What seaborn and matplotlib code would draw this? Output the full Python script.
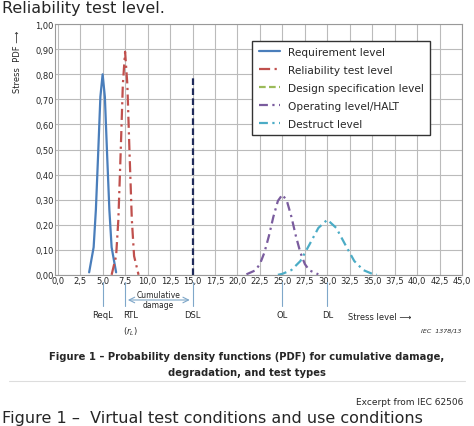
import matplotlib
matplotlib.use("Agg")
import matplotlib.pyplot as plt
import seaborn as sns
import pandas as pd
from matplotlib.lines import Line2D

req_x = [3.5, 4.0, 4.25, 4.5, 4.75, 5.0, 5.25, 5.5, 5.75, 6.0, 6.5]
req_y = [0.01, 0.11, 0.26, 0.48, 0.71, 0.80, 0.71, 0.48, 0.26, 0.11, 0.01]
rtl_x = [6.0, 6.5, 6.75, 7.0, 7.25, 7.5, 7.75, 8.0, 8.25, 8.5, 9.0]
rtl_y = [0.0, 0.075, 0.22, 0.48, 0.76, 0.89, 0.76, 0.48, 0.22, 0.075, 0.0]
dsl_x = [15.0, 15.0]
dsl_y = [0.0, 0.79]
ol_x = [21.0, 22.0, 22.5, 23.0, 23.5, 24.0, 24.5, 25.0, 25.5, 26.0, 26.5, 27.0, 27.5, 28.0, 29.0]
ol_y = [0.002, 0.018, 0.043, 0.089, 0.155, 0.232, 0.295, 0.32, 0.295, 0.232, 0.155, 0.089, 0.043, 0.018, 0.002]
dl_x = [24.5, 25.0, 26.0, 27.0, 28.0, 29.0, 30.0, 31.0, 32.0, 33.0, 34.0, 35.0, 35.5]
dl_y = [0.0, 0.004, 0.019, 0.055, 0.12, 0.187, 0.22, 0.187, 0.12, 0.055, 0.019, 0.004, 0.0]
names = ["Requirement level", "Reliability test level", "Design specification level",
         "Operating level/HALT", "Destruct level"]
x_ticks = [i * 2.5 for i in range(19)]
y_ticks = [i / 10 for i in range(11)]

sns.set_style("whitegrid")
plt.rcParams['font.family'] = ['DejaVu Sans']

fig = plt.figure(figsize=(4.74, 4.27), dpi=100)
ax = fig.add_axes([0.116, 0.354, 0.859, 0.587])

series = [(req_x, req_y), (rtl_x, rtl_y), (dsl_x, dsl_y), (ol_x, ol_y), (dl_x, dl_y)]
styles = [dict(color="#4a7ebb", ls="-"), dict(color="#c0504d", ls=(0, (5, 2, 1, 2))),
          dict(color="#1f2a5a", ls=(0, (3, 1.5))), dict(color="#7a5c9e", ls=(0, (4, 2, 1, 2))),
          dict(color="#4bacc6", ls=(0, (4, 2, 1, 2)))]
for (xs, ys), st, nm in zip(series, styles, names):
    d = pd.DataFrame({"x": xs, "y": ys})
    sns.lineplot(data=d, x="x", y="y", ax=ax, color=st["color"], linestyle=st["ls"],
                 lw=1.6, sort=False, estimator=None)

leg_colors = ["#4a7ebb", "#c0504d", "#9bbb59", "#7a5c9e", "#4bacc6"]
handles = [Line2D([], [], color=c, linestyle=st["ls"], lw=1.6) for c, st in zip(leg_colors, styles)]
leg = ax.legend(handles, names, loc="upper right", bbox_to_anchor=(0.935, 0.955), fontsize=7.6,
                frameon=True, fancybox=False, edgecolor="#333333", framealpha=1,
                handlelength=2.0, labelspacing=0.75, borderpad=0.6)
leg.get_frame().set_linewidth(1)

ax.set_xlim(-0.3, 45)
ax.set_ylim(0, 1.0)
ax.set_xticks(x_ticks)
ax.set_xticklabels([f"{v:.1f}".replace(".", ",") for v in x_ticks], fontsize=6)
ax.set_yticks(y_ticks)
ax.set_yticklabels([f"{v:.2f}".replace(".", ",") for v in y_ticks], fontsize=6)
ax.tick_params(pad=1, length=0)
ax.set_xlabel("")
ax.set_ylabel("")
ax.grid(color="#bbbbbb", lw=0.8)
for s in ax.spines.values():
    s.set_color("#999999")

def xf(v):
    return 0.116 + 0.859 * (v + 0.3) / 45.3

for v, lab in [(5, "ReqL"), (7.5, "RTL"), (15, "DSL"), (25, "OL"), (30, "DL")]:
    fig.text(xf(v) + (0.012 if lab == "RTL" else 0), 1 - 315 / 427, lab, fontsize=6, ha="center", va="center")
    fig.add_artist(plt.Line2D([xf(v), xf(v)], [1 - 307 / 427, 1 - 283 / 427], color="#7fa7c9", lw=0.8))
fig.text(xf(7.5) + 0.012, 1 - 332 / 427, "($r_L$)", fontsize=6, ha="center", va="center")
ax.annotate("", xy=(xf(7.5), 1 - 301 / 427), xytext=(xf(15), 1 - 301 / 427),
            xycoords="figure fraction", arrowprops=dict(arrowstyle="<->", color="#7fa7c9", lw=0.8))
fig.text(xf(11.2), 1 - 296 / 427, "Cumulative", fontsize=5.5, ha="center", va="center")
fig.text(xf(11.2), 1 - 305 / 427, "damage", fontsize=5.5, ha="center", va="center")
fig.text(0.8, 1 - 318 / 427, "Stress level ⟶", fontsize=6, ha="center", va="center")
fig.text(0.93, 1 - 331 / 427, "IEC  1378/13", fontsize=4.5, style="italic", ha="center", va="center")
fig.text(0.0365, 1 - 62 / 427, "Stress  PDF ⟶", fontsize=6, rotation=90, ha="center", va="center")

fig.text(0.52, 1 - 357 / 427, "Figure 1 – Probability density functions (PDF) for cumulative damage,",
         fontsize=7.2, weight="bold", ha="center", va="center")
fig.text(0.52, 1 - 373 / 427, "degradation, and test types", fontsize=7.2, weight="bold",
         ha="center", va="center")
fig.add_artist(plt.Line2D([0.02, 0.98], [1 - 382 / 427] * 2, color="#dddddd", lw=0.8))
fig.text(0.977, 1 - 403 / 427, "Excerpt from IEC 62506", fontsize=6.5, ha="right", va="center")
fig.text(0.005, 1 - 419 / 427, "Figure 1 –  Virtual test conditions and use conditions",
         fontsize=11.5, ha="left", va="center")
fig.text(0.005, 1 - 8 / 427, "Reliability test level.", fontsize=11.5, ha="left", va="center")

fig.savefig("out.png", dpi=100, facecolor="white")
